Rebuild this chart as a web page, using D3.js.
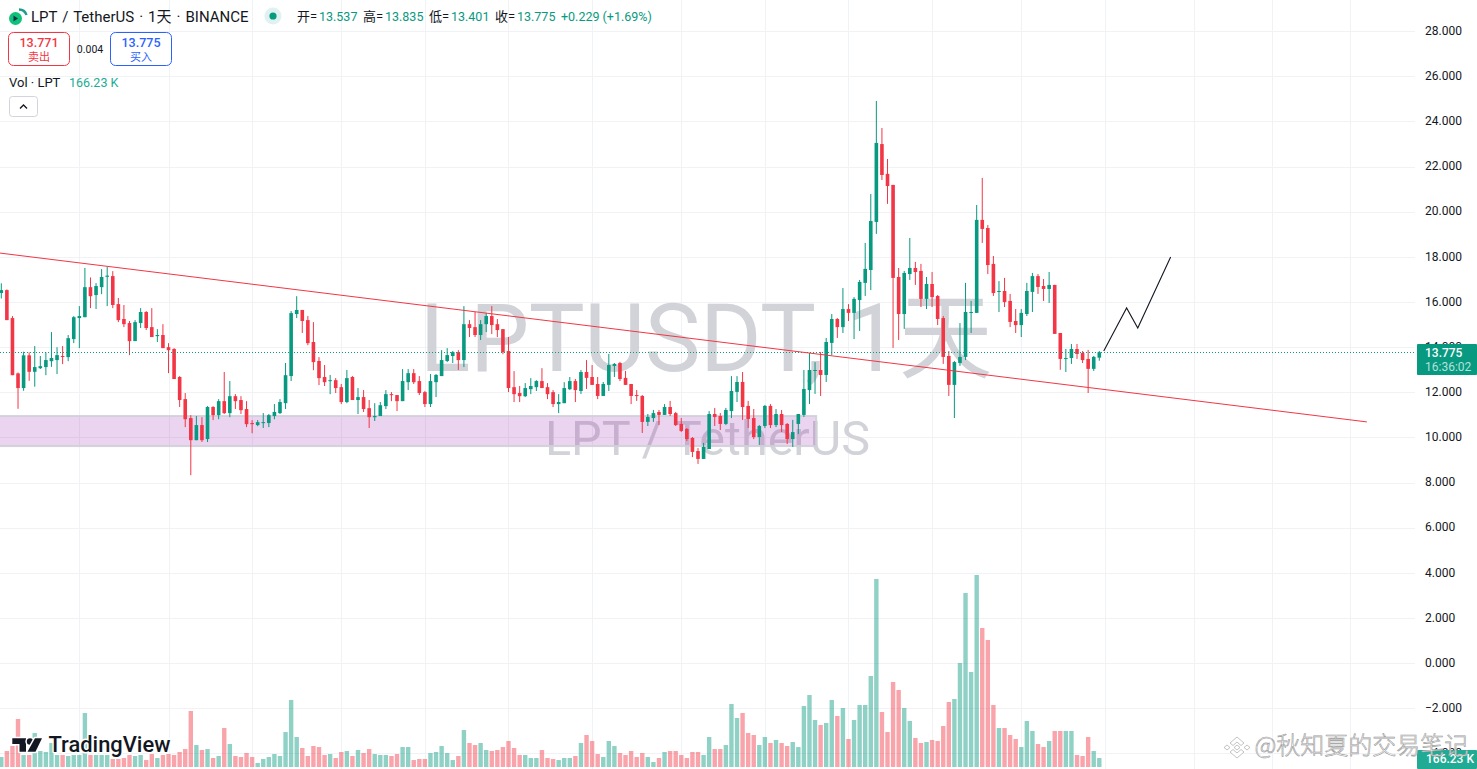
<!DOCTYPE html>
<html>
<head>
<meta charset="utf-8">
<title>LPT / TetherUS</title>
<script src="https://cdn.jsdelivr.net/npm/d3@7"></script>
<style>
  html, body { margin: 0; padding: 0; background: #fff; overflow: hidden; }
  svg { display: block; font-family: Roboto, "Noto Sans CJK SC", sans-serif; }
</style>
</head>
<body>
<svg id="chart" width="1477" height="769"></svg>
<script>
// Daily candles, oldest first
const opens = [
  16.40,16.53,15.29,12.84,12.19,13.64,12.91,13.07,13.12,13.38,13.43,13.61,13.56,14.36,15.29,15.33,16.66,16.31,16.66,17.12,
  17.15,15.91,15.25,15.07,14.27,15.07,15.56,14.89,14.49,14.54,14.00,13.92,12.68,11.70,10.86,9.88,10.55,9.93,11.35,10.99,
  11.61,11.08,11.83,11.66,11.26,10.64,10.55,10.64,10.64,10.95,11.08,11.52,12.72,15.47,15.65,15.20,14.23,13.39,12.68,12.50,
  12.54,12.23,11.57,12.68,11.66,11.79,11.30,10.90,10.95,11.39,11.92,11.88,11.61,12.45,12.85,12.50,12.01,11.48,12.45,12.72,
  13.39,13.61,13.78,13.43,15.02,14.89,14.54,15.02,15.38,15.02,14.80,13.83,12.23,11.97,11.83,12.14,12.23,12.50,12.23,12.01,
  11.48,11.52,12.14,12.50,12.06,12.90,12.68,12.37,11.84,12.33,13.17,13.30,12.64,12.37,11.88,11.84,10.69,10.86,11.13,11.00,
  11.35,11.08,10.60,10.38,9.98,9.40,9.05,9.49,11.04,10.95,10.60,11.17,12.02,12.46,11.40,10.86,10.02,10.51,11.40,10.55,
  11.04,10.60,9.93,10.60,11.00,12.10,12.95,12.99,12.77,14.19,15.25,14.89,15.69,15.52,16.09,16.85,17.42,19.55,23.00,21.68,
  21.19,17.11,15.47,17.24,17.51,17.38,16.14,16.80,16.27,15.29,13.61,12.33,13.30,13.57,15.52,15.52,19.64,19.28,17.69,16.45,
  16.49,16.05,15.16,14.98,15.47,16.45,17.15,16.71,16.58,16.76,14.63,13.48,13.52,13.92,13.74,13.48,13.04,13.537
];
const highs = [
  16.83,16.56,15.38,12.88,13.80,13.77,14.05,13.61,13.77,14.67,14.00,14.05,14.54,15.38,15.82,17.51,17.09,16.84,17.46,17.56,
  17.37,16.18,15.87,15.16,15.20,15.73,15.60,15.73,14.80,15.02,14.18,13.96,12.72,11.97,10.99,10.95,10.90,11.39,11.39,11.70,
  12.90,12.50,11.92,11.83,11.61,10.77,10.77,11.08,11.04,11.48,11.70,13.30,15.60,16.26,15.65,15.38,15.11,13.56,13.21,12.77,
  12.63,12.37,12.99,12.72,12.19,12.10,11.66,11.52,11.57,12.10,12.01,11.88,13.03,13.03,13.03,12.72,12.06,12.81,12.81,13.87,
  13.96,13.83,13.87,15.82,15.20,15.56,15.20,15.51,15.82,15.25,14.80,14.45,12.94,12.28,12.41,12.63,12.54,13.07,12.41,12.10,
  11.92,12.45,12.68,12.59,12.99,13.43,13.21,12.68,12.46,13.70,13.30,13.35,12.95,12.37,12.10,11.88,11.04,11.22,11.22,11.48,
  11.62,11.13,10.86,10.42,10.02,9.53,9.76,11.17,11.31,11.08,11.31,12.72,12.72,12.90,11.62,11.26,10.55,11.44,11.48,11.26,
  11.22,10.64,10.78,11.04,12.99,13.74,13.34,13.79,14.41,15.47,15.29,16.62,15.91,16.22,16.98,18.62,20.79,24.91,23.71,22.34,
  21.19,17.51,17.38,18.84,17.78,17.69,17.11,17.33,16.31,15.38,13.83,13.39,15.07,16.85,16.05,20.30,21.50,19.41,18.04,16.93,
  17.07,16.36,15.69,15.69,16.85,17.29,17.24,17.02,17.33,16.76,14.63,13.92,14.14,14.14,13.83,13.88,13.61,13.835
];
const lows = [
  16.16,15.20,12.76,11.27,12.07,12.51,12.25,13.03,12.76,13.13,12.81,13.25,13.38,14.18,13.96,15.33,15.73,15.69,16.35,15.82,
  15.73,15.11,14.89,13.65,14.27,14.85,14.76,14.45,14.23,13.96,12.85,12.59,11.35,10.46,8.33,9.88,9.80,9.80,10.77,10.81,
  11.04,10.90,11.26,11.04,10.46,10.19,10.50,10.42,10.46,10.81,11.04,11.26,12.50,15.29,14.63,14.09,12.98,12.32,12.28,11.92,
  11.97,11.48,11.52,11.66,11.04,11.13,10.42,10.73,10.95,11.26,11.61,11.17,11.61,12.10,12.37,11.88,11.35,11.35,11.79,12.72,
  13.34,13.30,12.99,13.12,14.45,14.45,14.32,14.67,14.58,14.45,13.69,12.01,11.57,11.57,11.79,11.92,12.06,12.19,11.70,11.35,
  11.08,11.52,12.10,11.57,11.93,12.15,12.33,11.70,11.84,12.06,12.68,12.50,12.33,11.48,11.62,10.20,10.51,10.69,10.55,11.00,
  10.95,10.51,10.24,9.84,9.13,8.83,9.05,9.49,10.51,10.33,10.55,10.86,11.57,10.78,10.42,9.93,9.67,10.42,10.42,10.46,
  10.24,9.71,9.58,10.15,10.91,11.48,11.93,11.84,12.46,13.65,14.41,14.63,15.16,14.36,14.72,16.27,16.53,19.02,21.41,20.35,
  13.97,14.32,14.81,16.98,16.76,15.78,15.69,15.78,14.98,13.26,11.84,10.86,13.17,13.43,14.63,15.52,18.62,17.24,16.27,15.56,
  15.78,14.89,14.63,14.45,15.38,15.56,16.36,16.05,15.96,14.59,13.00,12.90,13.26,13.48,13.30,11.97,12.95,13.401
];
const closes = [
  16.53,15.20,12.76,12.19,13.64,12.91,13.12,13.16,13.43,13.52,13.65,13.58,14.40,15.33,15.38,16.66,16.26,16.71,17.11,17.17,
  15.87,15.20,15.02,14.27,15.11,15.56,14.85,14.45,14.54,13.96,13.87,12.59,11.66,10.81,9.88,10.55,9.88,11.35,10.99,11.61,
  11.08,11.83,11.61,11.21,10.59,10.59,10.68,10.68,10.99,11.13,11.57,12.76,15.51,15.65,15.16,14.18,13.34,12.63,12.45,12.54,
  12.19,11.57,12.63,11.66,11.79,11.26,10.90,10.95,11.43,11.92,11.88,11.61,12.50,12.85,12.45,11.97,11.48,12.50,12.77,13.43,
  13.65,13.78,13.43,15.02,14.85,14.54,15.02,15.38,14.98,14.76,13.78,12.19,11.92,11.83,12.19,12.28,12.50,12.19,11.92,11.48,
  11.57,12.19,12.50,12.10,12.90,12.64,12.33,11.84,12.37,13.21,13.26,12.59,12.33,11.84,11.84,10.69,10.91,11.08,11.00,11.35,
  11.04,10.55,10.29,9.93,9.36,9.05,9.58,11.04,10.91,10.60,11.22,12.06,12.46,11.35,10.82,10.02,10.51,11.40,10.55,11.04,
  10.55,9.93,10.24,11.04,12.15,12.99,12.99,12.77,14.23,15.25,14.89,15.69,15.52,16.14,16.89,17.47,19.59,23.05,21.63,21.14,
  17.07,15.47,17.29,17.51,17.33,16.14,16.80,16.22,15.25,13.57,12.33,13.34,13.57,15.56,15.56,19.64,19.24,17.64,16.40,16.49,
  16.00,15.12,14.98,15.52,16.49,17.15,16.67,16.58,16.76,14.59,13.48,13.52,13.92,13.70,13.43,13.04,13.57,13.775
];
// Volume in thousands of LPT
const volumes = [
  185,296,388,887,222,222,628,296,277,443,222,222,203,222,222,997,222,222,222,222,
  148,148,166,222,203,222,129,240,166,222,240,222,277,332,1034,406,314,332,166,203,
  720,425,203,185,259,185,74,148,185,240,203,646,1238,554,351,203,388,369,222,240,
  166,277,296,203,314,259,332,240,222,222,203,240,369,369,129,148,148,259,277,388,
  259,129,203,683,443,406,443,314,296,314,369,480,351,222,222,166,166,314,166,148,
  129,166,166,203,443,591,480,240,185,480,388,259,222,296,185,259,185,92,166,277,
  296,296,222,166,277,277,222,554,332,332,406,1164,905,997,628,591,406,554,443,499,
  443,388,462,369,1127,1330,868,776,813,1238,942,1090,517,868,1145,1145,1681,3473,1016,646,
  1570,1422,1090,850,536,443,462,499,480,757,1201,1256,1921,3214,1755,3546,2567,2346,1145,720,
  720,591,517,369,850,665,425,369,480,665,665,665,665,222,203,554,296,166.23
];

const priceTicks = [-4, -2, 0, 2, 4, 6, 8, 10, 12, 14, 16, 18, 20, 22, 24, 26, 28];
const gridBars = [14, 30, 45, 61, 76, 91, 106, 122, 137, 152, 167, 183, 198, 214, 228, 242];
const lastPrice = 13.775;

// Drawings on the chart, as [bar, price] pairs
const trendLine = [[-0.23, 18.17], [245, 10.69]];
const projection = [[197.8, 13.83], [201.9, 15.74], [203.9, 14.85], [209.8, 18.0]];
const zoneTop = 10.95, zoneBottom = 9.62, zoneEndBar = 146.2;

const green = "#089981", red = "#f23645", ink = "#131722", gridColor = "#f0f2f6";
const plotRight = 1415, width = 1477, height = 769;

const svg = d3.select("#chart");
const x = d3.scaleLinear().domain([0, 197]).range([1.3, 1099.3]);
const y = d3.scaleLinear().domain([0, 28]).range([663.2, 31.2]);
const yVol = d3.scaleLinear().domain([0, 3546]).range([767, 575]);
const isUp = i => closes[i] >= opens[i];

// Grid
svg.append("g").selectAll("line").data(priceTicks).join("line")
  .attr("x1", 0).attr("x2", plotRight)
  .attr("y1", d => Math.round(y(d)) + 0.5).attr("y2", d => Math.round(y(d)) + 0.5)
  .attr("stroke", gridColor);
svg.append("g").selectAll("line").data(gridBars).join("line")
  .attr("x1", d => Math.round(x(d)) + 0.5).attr("x2", d => Math.round(x(d)) + 0.5)
  .attr("y1", 0).attr("y2", height)
  .attr("stroke", gridColor);

// Symbol watermarks sit under everything else
svg.append("text").text("LPTUSDT, 1天")
  .attr("x", 706).attr("y", 371).attr("text-anchor", "middle")
  .attr("font-size", 94).attr("letter-spacing", -0.5).attr("fill", "#d2d3d8");
svg.append("text").text("LPT / TetherUS")
  .attr("x", 707.5).attr("y", 455).attr("text-anchor", "middle")
  .attr("font-size", 48.5).attr("fill", "#d2d3d8");

// Highlighted zone
svg.append("rect")
  .attr("x", -2).attr("width", x(zoneEndBar) + 2)
  .attr("y", y(zoneTop)).attr("height", y(zoneBottom) - y(zoneTop))
  .attr("fill", "rgba(156,39,176,0.2)")
  .attr("stroke", "#cfd0d8").attr("stroke-width", 2).attr("stroke-opacity", 0.9);

// Volume bars
svg.append("g").selectAll("rect").data(volumes).join("rect")
  .attr("x", (d, i) => x(i) - 2.2).attr("width", 4.4)
  .attr("y", d => yVol(d)).attr("height", d => yVol(0) - yVol(d))
  .attr("fill", (d, i) => isUp(i) ? green : red)
  .attr("fill-opacity", 0.45);

// Candles
const candles = svg.append("g").selectAll("g").data(opens).join("g")
  .attr("fill", (d, i) => isUp(i) ? green : red)
  .attr("stroke", (d, i) => isUp(i) ? green : red);
candles.append("line")
  .attr("x1", (d, i) => x(i)).attr("x2", (d, i) => x(i))
  .attr("y1", (d, i) => y(highs[i])).attr("y2", (d, i) => y(lows[i]))
  .attr("stroke-width", 1);
candles.append("rect")
  .attr("x", (d, i) => x(i) - 1.8).attr("width", 3.6)
  .attr("y", (d, i) => y(Math.max(opens[i], closes[i])))
  .attr("height", (d, i) => Math.max(1, Math.abs(y(opens[i]) - y(closes[i]))))
  .attr("stroke", "none");

// Last price line
svg.append("line")
  .attr("x1", 0).attr("x2", plotRight)
  .attr("y1", Math.round(y(lastPrice)) + 0.5).attr("y2", Math.round(y(lastPrice)) + 0.5)
  .attr("stroke", green).attr("stroke-dasharray", "1 2");

// Hand drawn lines
const line = d3.line().x(d => x(d[0])).y(d => y(d[1]));
svg.append("path").attr("d", line(trendLine)).attr("fill", "none").attr("stroke", red).attr("stroke-width", 1);
svg.append("path").attr("d", line(projection)).attr("fill", "none").attr("stroke", ink).attr("stroke-width", 1.1);

// Price axis on the right
const axis = d3.axisRight(y).tickValues(priceTicks).tickFormat(d3.format(".3f")).tickSize(0).tickPadding(0);
const axisG = svg.append("g").attr("transform", "translate(1425,-0.7)").call(axis);
axisG.select(".domain").remove();
axisG.selectAll("text").attr("font-size", 12).attr("font-family", "Roboto").attr("fill", ink);

// Last price tag
svg.append("rect").attr("x", 1417).attr("y", 344).attr("width", 60).attr("height", 31).attr("rx", 1).attr("fill", green);
svg.append("text").text("13.775").attr("x", 1425).attr("y", 357).attr("font-size", 12).attr("font-weight", 500).attr("fill", "#fff");
svg.append("text").text("16:36:02").attr("x", 1425).attr("y", 371).attr("font-size", 12).attr("fill", "#b5e0d9");
// Volume tag
svg.append("rect").attr("x", 1417).attr("y", 750).attr("width", 60).attr("height", 19).attr("rx", 1).attr("fill", "#22ab94");
svg.append("text").text("166.23 K").attr("x", 1426).attr("y", 763).attr("font-size", 12).attr("font-weight", 500).attr("fill", "#fff");

// Legend, top left
const icon = svg.append("g");
icon.append("path").attr("d", "M19 9.5 A8 8 0 0 1 26.5 15").attr("fill", "none").attr("stroke", "#1d9e8c").attr("stroke-width", 2.4);
icon.append("circle").attr("cx", 15.5).attr("cy", 18.5).attr("r", 6.5).attr("fill", "#0fc27a");
icon.append("path").attr("d", "M13.5 15.5 L18 18.5 L13.5 21.5 Z").attr("fill", "#14364a");

function label(text, px, py, size, fill, anchor) {
  return svg.append("text").text(text).attr("x", px).attr("y", py)
    .attr("font-size", size).attr("fill", fill).attr("text-anchor", anchor || "start");
}
label("LPT / TetherUS · 1天 · BINANCE", 31, 21.5, 15, ink).attr("word-spacing", 1.3);
svg.append("circle").attr("cx", 273).attr("cy", 16).attr("r", 8.5).attr("fill", green).attr("fill-opacity", 0.13);
svg.append("circle").attr("cx", 273).attr("cy", 16).attr("r", 3.6).attr("fill", green);

const legendKeys = ["开=", "高=", "低=", "收="];
const legendVals = ["13.537", "13.835", "13.401", "13.775"];
legendKeys.forEach((k, i) => {
  label(k, 297 + i * 66, 21, 13, ink);
  label(legendVals[i], 319 + i * 66, 21, 12.5, green);
});
label("+0.229 (+1.69%)", 561, 21, 12.5, green);

function tradeBox(bx, color, price, name) {
  svg.append("rect").attr("x", bx + 0.5).attr("y", 32.5).attr("width", 61).attr("height", 33).attr("rx", 5)
    .attr("fill", "#fff").attr("stroke", color);
  label(price, bx + 31, 47, 12.5, color, "middle").attr("font-weight", 500);
  label(name, bx + 31, 61, 11, color, "middle");
}
tradeBox(8, red, "13.771", "卖出");
tradeBox(110, "#2962ff", "13.775", "买入");
label("0.004", 90, 53, 10.5, ink, "middle");

label("Vol · LPT", 9, 87, 13, ink);
label("166.23 K", 69, 87, 12.5, "#22ab94");
svg.append("rect").attr("x", 9.5).attr("y", 96.5).attr("width", 28).attr("height", 20).attr("rx", 3)
  .attr("fill", "#fff").attr("stroke", "#d1d4dc");
svg.append("path").attr("d", "M20 108.5 L23.5 105 L27 108.5").attr("fill", "none").attr("stroke", ink).attr("stroke-width", 1.3);

// TradingView logo, white halo keeps it readable over the volume bars
const logo = svg.append("g").attr("fill", ink).attr("stroke", "#fff").attr("stroke-width", 3)
  .attr("paint-order", "stroke").attr("stroke-linejoin", "round");
logo.append("path").attr("d", "M12.3 738.3 H26 V751.8 H19.5 V744 H12.3 Z");
logo.append("circle").attr("cx", 30).attr("cy", 741.5).attr("r", 3.2);
logo.append("path").attr("d", "M35 738.3 H42 L35.5 751.8 H27.5 Z");
logo.append("text").text("TradingView").attr("x", 48.5).attr("y", 752)
  .attr("font-size", 21.9).attr("font-weight", 500);

// Publisher mark, bottom right
const mark = svg.append("g").attr("fill", "#fff").attr("stroke", "#9a9a9a").attr("stroke-width", 0.6);
mark.append("text").text("@秋知夏的交易笔记").attr("x", 1254.5).attr("y", 754).attr("font-size", 24)
  .attr("font-family", "'Noto Sans CJK SC', sans-serif").attr("font-weight", 300);
mark.append("path").attr("d", "M1237 737 L1244 743 L1241 745.5 L1237 742 L1233 745.5 L1230 743 Z");
mark.append("path").attr("d", "M1237 758 L1244 752 L1241 749.5 L1237 753 L1233 749.5 L1230 752 Z");
mark.append("path").attr("d", "M1237 745 L1240 747.5 L1237 750 L1234 747.5 Z");
mark.append("path").attr("d", "M1227 745 L1230 747.5 L1227 750 L1224 747.5 Z");
mark.append("path").attr("d", "M1247 745 L1250 747.5 L1247 750 L1244 747.5 Z");
</script>
</body>
</html>
